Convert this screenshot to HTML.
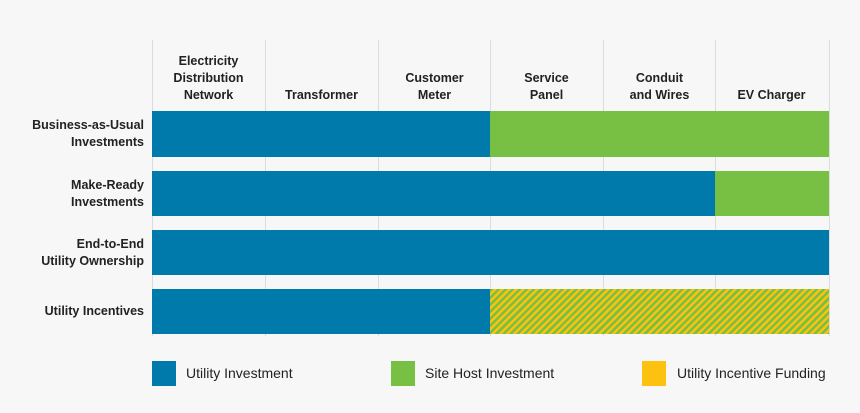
<!DOCTYPE html>
<html><head><style>
body{margin:0;width:860px;height:413px;background:#f7f7f7;font-family:"Liberation Sans",sans-serif;position:relative;overflow:hidden;color:#222}
.a{position:absolute}
.v{position:absolute;top:40px;height:296px;width:1px;background:#dcdcdc}
.h{position:absolute;font-size:12.5px;font-weight:bold;text-align:center;line-height:17px;width:113px}
.r{position:absolute;right:716px;font-size:12.5px;font-weight:bold;text-align:right;line-height:17px}
.b{background:#007aab}.g{background:#77c043}
.s{background:repeating-linear-gradient(135deg,#77c043 0 2.5px,#fcc20f 2.5px 5px)}
.l{position:absolute;top:365px;font-size:14px}
</style></head><body>
<div class="v" style="left:152px"></div><div class="v" style="left:265px"></div><div class="v" style="left:378px"></div><div class="v" style="left:490px"></div><div class="v" style="left:603px"></div><div class="v" style="left:715px"></div><div class="v" style="left:829px"></div>
<div class="h" style="left:152px;top:53px">Electricity<br>Distribution<br>Network</div>
<div class="h" style="left:265px;top:87px">Transformer</div>
<div class="h" style="left:378px;top:70px">Customer<br>Meter</div>
<div class="h" style="left:490px;top:70px">Service<br>Panel</div>
<div class="h" style="left:603px;top:70px">Conduit<br>and Wires</div>
<div class="h" style="left:715px;top:87px">EV Charger</div>
<div class="r" style="top:117px">Business-as-Usual<br>Investments</div>
<div class="r" style="top:177px">Make-Ready<br>Investments</div>
<div class="r" style="top:236px">End-to-End<br>Utility Ownership</div>
<div class="r" style="top:303px">Utility Incentives</div>
<div class="a b" style="left:152px;top:111px;width:338px;height:46px"></div>
<div class="a g" style="left:490px;top:111px;width:339px;height:46px"></div>
<div class="a b" style="left:152px;top:171px;width:563px;height:45px"></div>
<div class="a g" style="left:715px;top:171px;width:114px;height:45px"></div>
<div class="a b" style="left:152px;top:230px;width:677px;height:45px"></div>
<div class="a b" style="left:152px;top:289px;width:338px;height:45px"></div>
<div class="a s" style="left:490px;top:289px;width:339px;height:45px"></div>
<div class="a b" style="left:152px;top:361px;width:24px;height:25px"></div>
<div class="l" style="left:186px">Utility Investment</div>
<div class="a g" style="left:391px;top:361px;width:24px;height:25px"></div>
<div class="l" style="left:425px">Site Host Investment</div>
<div class="a" style="left:642px;top:361px;width:24px;height:25px;background:#fcc20f"></div>
<div class="l" style="left:677px">Utility Incentive Funding</div>
</body></html>
